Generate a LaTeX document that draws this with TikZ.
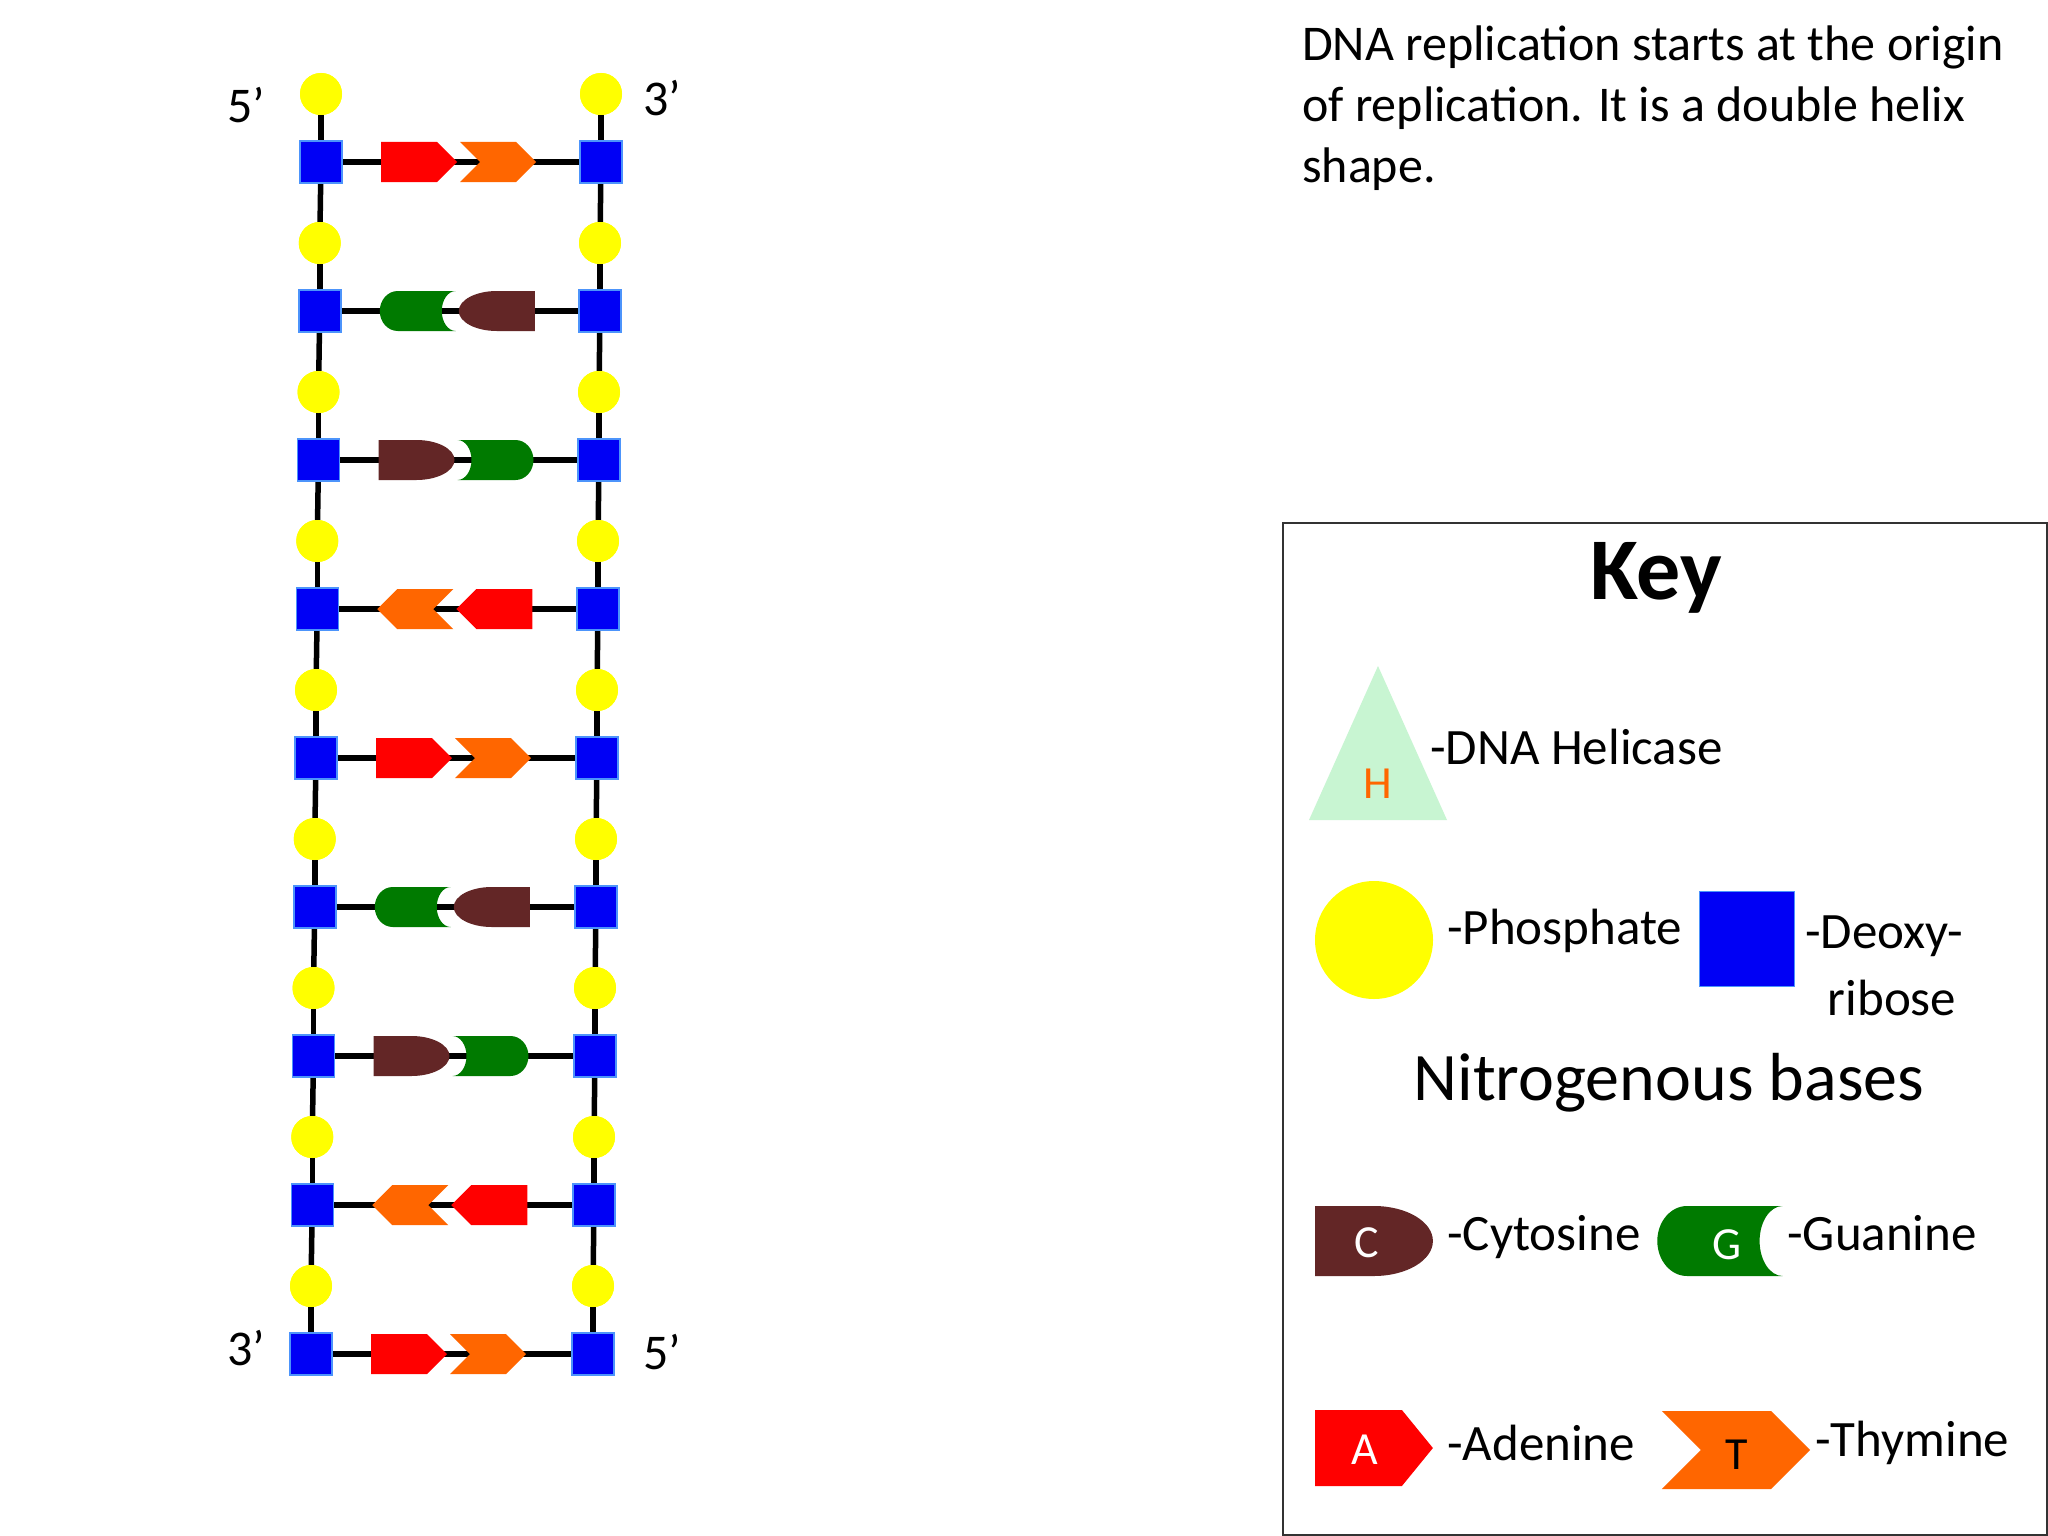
\documentclass[tikz,border=0pt]{standalone}
\usepackage{fontspec}
\setmainfont{Carlito}
\definecolor{cA}{HTML}{FF0000}
\definecolor{cT}{HTML}{FF6600}
\definecolor{cG}{HTML}{007A00}
\definecolor{cC}{HTML}{632626}
\definecolor{cS}{HTML}{0000F5}
\definecolor{cP}{HTML}{FFFF00}
\definecolor{cH}{HTML}{C8F5D2}
\newcommand\shA[3]{\fill[cA,shift={(#1,#2)},xscale=#3] (-38,-20)--(18,-20)--(38,0)--(18,20)--(-38,20)--cycle;}
\newcommand\shT[3]{\fill[cT,shift={(#1,#2)},xscale=#3] (-38,-20)--(18,-20)--(38,0)--(18,20)--(-38,20)--(-18,0)--cycle;}
\newcommand\shC[3]{\fill[cC,shift={(#1,#2)},xscale=#3] (-38,-20)--(0,-20) arc[start angle=-90,end angle=90,x radius=38,y radius=20]--(-38,20)--cycle;}
\newcommand\shG[3]{\fill[cG,shift={(#1,#2)},xscale=#3] (-20,-20)--(38,-20) arc[start angle=-90,end angle=-270,x radius=14,y radius=20]--(-20,20) arc[start angle=90,end angle=270,x radius=18,y radius=20]--cycle;}
\tikzset{x=1pt,y=-1pt,
 sq/.style={draw=cS!60!cyan!70!white,line width=1.5pt,fill=cS,minimum size=42pt,inner sep=0pt},
 ph/.style={circle,fill=cP,minimum size=42pt,inner sep=0pt},
 bb/.style={line width=5.5pt,black},
 lbl/.style={font=\fontsize{51}{60}\selectfont,anchor=west,inner sep=0pt}}
\begin{document}
\begin{tikzpicture}
\useasboundingbox (0,0) rectangle (2048,1536);
\fill[white] (0,0) rectangle (2048,1536);
% ladder
\foreach \i [count=\k from 0] in {1,...,9}{
  \pgfmathsetmacro\yy{162+149*\k}
  \pgfmathsetmacro\xl{321-1.25*\k}
  \pgfmathsetmacro\xr{601-1.0*\k}
  \pgfmathsetmacro\py{94+149*\k}
  \node[ph] (pl\i) at (\xl,\py) {};
  \node[ph] (pr\i) at (\xr,\py) {};
  \node[sq] (sl\i) at (\xl,\yy) {};
  \node[sq] (sr\i) at (\xr,\yy) {};
}
\foreach \i in {1,...,9}{
  \draw[bb] (pl\i) -- (sl\i); \draw[bb] (pr\i) -- (sr\i);
  \draw[bb] (sl\i) -- (sr\i);
}
\foreach \i/\j in {1/2,2/3,3/4,4/5,5/6,6/7,7/8,8/9}{
  \draw[bb] (sl\i) -- (pl\j); \draw[bb] (sr\i) -- (pr\j);
}
% redraw nodes over lines
\foreach \i [count=\k from 0] in {1,...,9}{
  \pgfmathsetmacro\yy{162+149*\k}
  \pgfmathsetmacro\xl{321-1.25*\k}
  \pgfmathsetmacro\xr{601-1.0*\k}
  \pgfmathsetmacro\py{94+149*\k}
  \node[ph] at (\xl,\py) {};
  \node[ph] at (\xr,\py) {};
  \node[sq] at (\xl,\yy) {};
  \node[sq] at (\xr,\yy) {};
  \pgfmathsetmacro\ba{\xl+98}
  \pgfmathsetmacro\bb{\xl+177}
  \ifcase\k
    \shA{\ba}{\yy}{1}\shT{\bb}{\yy}{1}
  \or \shG{\ba}{\yy}{1}\shC{\bb}{\yy}{-1}
  \or \shC{\ba}{\yy}{1}\shG{\bb}{\yy}{-1}
  \or \shT{\ba}{\yy}{-1}\shA{\bb}{\yy}{-1}
  \or \shA{\ba}{\yy}{1}\shT{\bb}{\yy}{1}
  \or \shG{\ba}{\yy}{1}\shC{\bb}{\yy}{-1}
  \or \shC{\ba}{\yy}{1}\shG{\bb}{\yy}{-1}
  \or \shT{\ba}{\yy}{-1}\shA{\bb}{\yy}{-1}
  \or \shA{\ba}{\yy}{1}\shT{\bb}{\yy}{1}
  \fi
}
\node[font=\fontsize{50}{60}\selectfont] (l5a) at (246,105) {5’};
\node[font=\fontsize{50}{60}\selectfont] (l3a) at (662,98) {3’};
\node[font=\fontsize{50}{60}\selectfont] (l3b) at (246,1348) {3’};
\node[font=\fontsize{50}{60}\selectfont] (l5b) at (662,1352) {5’};
% text
\node[anchor=north west,align=left,inner sep=0pt,font=\fontsize{50}{61}\selectfont] (intro) at (1302,26) {DNA replication starts at the origin\\of replication. It is a double helix\\shape.};
% key
\draw[line width=2pt,black!80] (1283,523) rectangle (2047,1535);
\node[font=\bfseries\fontsize{88}{90}\selectfont] (key) at (1656,578) {Key};
\fill[cH] (1378,666) -- (1447,820) -- (1309,820) -- cycle;
\node[text=cT,font=\fontsize{46}{50}\selectfont] (H) at (1378,784) {H};
\node[lbl] (hel) at (1430,747) {-DNA Helicase};
\node[circle,fill=cP,minimum size=118pt,inner sep=0pt] (kp) at (1374,940) {};
\node[lbl] (pho) at (1447,931) {-Phosphate};
\node[sq,minimum size=95pt] (ks) at (1747,939) {};
\node[lbl] (deo) at (1805,936) {-Deoxy-};
\node[font=\fontsize{51}{60}\selectfont] (rib) at (1892,998) {ribose};
\node[font=\fontsize{68}{70}\selectfont] (nb) at (1669,1083) {Nitrogenous bases};
\begin{scope}[shift={(1374,1241)},xscale=1.55,yscale=1.75]
\shC{0}{0}{1}
\end{scope}
\node[text=white,font=\fontsize{46}{50}\selectfont] (kc) at (1367,1243) {C};
\node[lbl] (cyt) at (1447,1237) {-Cytosine};
\begin{scope}[shift={(1720,1241)},xscale=1.65,yscale=1.75]
\shG{0}{0}{1}
\end{scope}
\node[text=white,font=\fontsize{46}{50}\selectfont] (kg) at (1727,1245) {G};
\node[lbl] (gua) at (1787,1233) {-Guanine};
\begin{scope}[shift={(1374,1448)},xscale=1.55,yscale=1.9]
\shA{0}{0}{1}
\end{scope}
\node[text=white,font=\fontsize{46}{50}\selectfont] (ka) at (1365,1450) {A};
\node[lbl] (ade) at (1447,1443) {-Adenine};
\begin{scope}[shift={(1736,1450)},scale=1.95]
\shT{0}{0}{1}
\end{scope}
\node[font=\fontsize{46}{50}\selectfont] (kt) at (1737,1455) {T};
\node[lbl] (thy) at (1815,1443) {-Thymine};
\end{tikzpicture}
\end{document}
